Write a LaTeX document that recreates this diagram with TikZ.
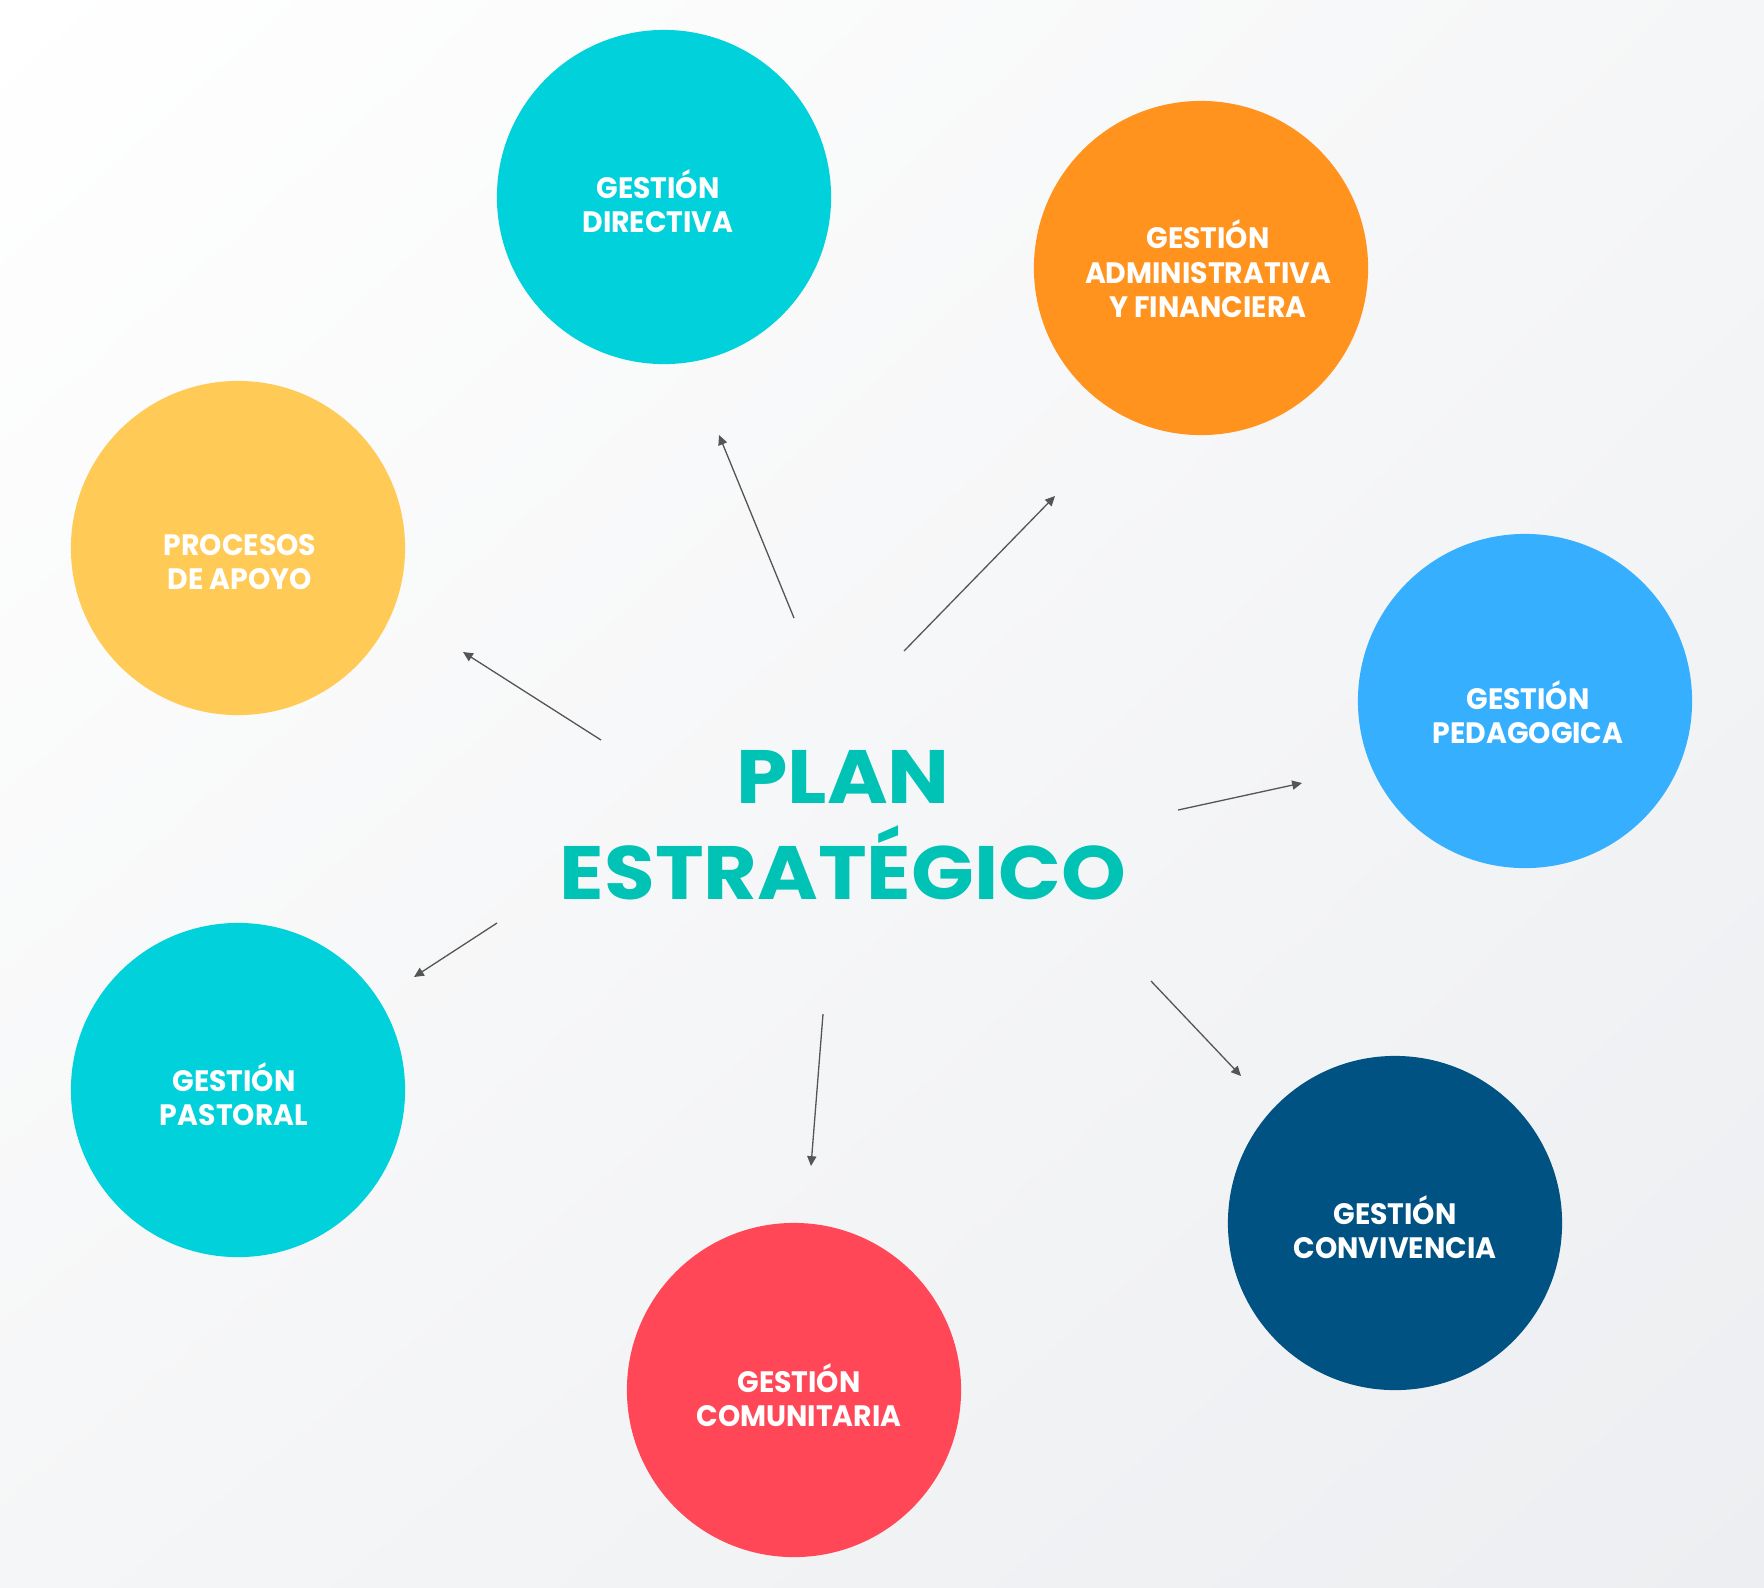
\documentclass[tikz,border=0pt]{standalone}
\usepackage{fontspec}
\setmainfont{Poppins}
\newfontfamily\rotulofont{Poppins}[FakeStretch=0.96]
\newfontfamily\titulofont{Poppins}[FakeStretch=1.09]
\usetikzlibrary{arrows.meta,shadings}

\definecolor{fondo}{HTML}{EDEEF1}
\definecolor{fondomedio}{HTML}{F5F6F7}
\definecolor{turquesa}{HTML}{00D1DB}
\definecolor{naranja}{HTML}{FF931E}
\definecolor{celeste}{HTML}{36AFFF}
\definecolor{marino}{HTML}{005283}
\definecolor{coral}{HTML}{FF4757}
\definecolor{mostaza}{HTML}{FFCA55}
\definecolor{titulo}{HTML}{00C2B5}
\definecolor{flechagris}{HTML}{555555}

\tikzset{
  gestion/.style={circle, minimum size=3.34cm, inner sep=0pt},
  rotulo/.style={text=white, font=\rotulofont\bfseries\fontsize{8.4}{9.8}\selectfont, align=center, inner sep=0pt},
  titular/.style={text=titulo, font=\titulofont\bfseries\fontsize{21.5}{27}\selectfont, anchor=base, inner sep=0pt},
  flecha/.style={draw=flechagris, line width=0.37pt, -{Triangle[length=2.8pt,width=2.6pt]}},
}

\begin{document}
\begin{tikzpicture}[x=0.01cm, y=-0.01cm]
\shade[upper left=white, upper right=fondomedio, lower left=fondomedio, lower right=fondo] (0,0) rectangle (1764,1587);

% circulos
\node[gestion, fill=turquesa] (dir) at (664,197) {};
\node[gestion, fill=naranja] (adm) at (1201,268) {};
\node[gestion, fill=celeste] (ped) at (1525,701) {};
\node[gestion, fill=marino] (con) at (1395,1223) {};
\node[gestion, fill=coral] (com) at (794,1390) {};
\node[gestion, fill=turquesa] (pas) at (238,1090) {};
\node[gestion, fill=mostaza] (apo) at (238,548) {};

\node[rotulo] (dir-t) at (658,201) {GESTIÓN\\DIRECTIVA};
\node[rotulo] (adm-t) at (1208,269) {GESTIÓN\\ADMINISTRATIVA\\Y FINANCIERA};
\node[rotulo] (ped-t) at (1528,712) {GESTIÓN\\PEDAGOGICA};
\node[rotulo] (con-t) at (1395,1227) {GESTIÓN\\CONVIVENCIA};
\node[rotulo] (com-t) at (799,1395) {GESTIÓN\\COMUNITARIA};
\node[rotulo] (pas-t) at (234,1094) {GESTIÓN\\PASTORAL};
\node[rotulo] (apo-t) at (240,562) {PROCESOS\\DE APOYO};

% titulo
\node[titular] (plan) at (843,803) {PLAN};
\node[titular] (estr) at (843,899) {ESTRATÉGICO};

% flechas
\coordinate (a1) at (794,618); \coordinate (b1) at (719,435);
\coordinate (a2) at (904,651); \coordinate (b2) at (1055,496);
\coordinate (a3) at (1178,810); \coordinate (b3) at (1302,783);
\coordinate (a4) at (1151,981); \coordinate (b4) at (1241,1076);
\coordinate (a5) at (823,1014); \coordinate (b5) at (811,1166);
\coordinate (a6) at (497,923); \coordinate (b6) at (414,977);
\coordinate (a7) at (601,740); \coordinate (b7) at (463,652);

\draw[flecha] (a1) -- (b1);
\draw[flecha] (a2) -- (b2);
\draw[flecha] (a3) -- (b3);
\draw[flecha] (a4) -- (b4);
\draw[flecha] (a5) -- (b5);
\draw[flecha] (a6) -- (b6);
\draw[flecha] (a7) -- (b7);
\end{tikzpicture}
\end{document}
